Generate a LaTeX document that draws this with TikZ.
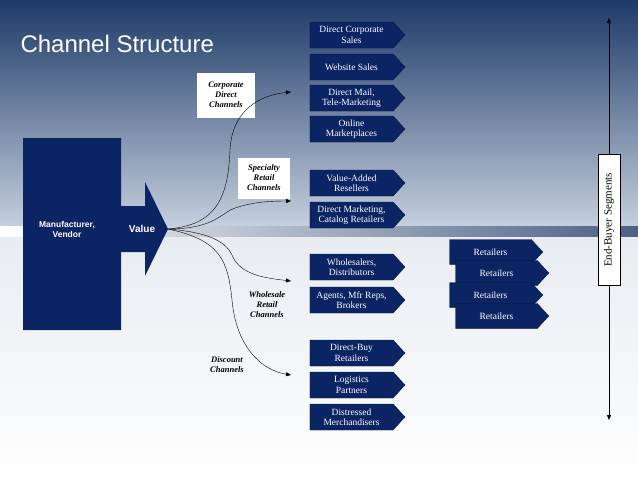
\documentclass[tikz,border=0pt]{standalone}
\usepackage{fontspec}
\setmainfont{Liberation Serif}
\newfontfamily\sansf{Liberation Sans}
\usetikzlibrary{arrows.meta,shapes.symbols}
\definecolor{navy}{HTML}{0B2463}
\definecolor{bgtop}{HTML}{1E3A68}
\definecolor{bgmid}{HTML}{C5CFDD}
\begin{document}
\begin{tikzpicture}[x=1pt,y=-1pt,
  tag/.style={signal,signal to=east,signal pointer angle=95,fill=navy,draw=navy!60!black,text=white,
    minimum width=95pt,minimum height=26pt,inner sep=0pt,align=center,font=\fontsize{9.5}{10.5}\selectfont},
  ret/.style={tag,minimum width=93pt,minimum height=25pt},
  lab/.style={align=center,font=\fontsize{8.5}{10}\selectfont\bfseries\itshape},
  con/.style={-{Triangle[length=5pt,width=4pt]},thin}]
\useasboundingbox (0,0) rectangle (638,479);
\shade[top color=bgtop,bottom color=bgmid] (0,0) rectangle (638,226);
\shade[left color=white,right color=bgtop!80] (0,226) rectangle (638,237);
\shade[top color=bgmid!40,bottom color=white] (0,237) rectangle (638,479);
\node[anchor=west,text=white,font=\sansf\fontsize{24}{26}\selectfont] (title) at (17,44) {Channel Structure};
\fill[navy] (23,138)--(121,138)--(121,206)--(145,206)--(145,182)--(168,229)--(145,276)--(145,252)--(121,252)--(121,330)--(23,330)--cycle;
\node[text=white,align=center,font=\sansf\bfseries\fontsize{8.5}{10}\selectfont] (mv) at (67,229) {Manufacturer,\\Vendor};
\node[text=white,font=\sansf\bfseries\fontsize{10}{11}\selectfont] (val) at (142,229) {Value};
\coordinate (src) at (168,229);
\foreach \n/\y/\t in {a/35/{Direct Corporate\\Sales},b/67/{Website Sales},c/98/{Direct Mail,\\Tele-Marketing},d/129/{Online\\Marketplaces},e/183/{Value-Added\\Resellers},f/215/{Direct Marketing,\\Catalog Retailers},g/267/{Wholesalers,\\Distributors},h/300/{Agents, Mfr Reps,\\Brokers},i/353/{Direct-Buy\\Retailers},j/385/{Logistics\\Partners},k/417/{Distressed\\Merchandisers}}
  \node[tag] (\n) at (351.5,\y) {\t};
\node[ret] (r1) at (490.5,252) {Retailers};
\node[ret] (r2) at (496.5,273) {Retailers};
\node[ret] (r3) at (490.5,295) {Retailers};
\node[ret] (r4) at (496.5,316) {Retailers};
\node[lab,fill=white,minimum width=58pt,minimum height=45pt] (l1) at (226,95) {Corporate\\Direct\\Channels};
\node[lab,fill=white,minimum width=52pt,minimum height=41pt] (l2) at (264,178) {Specialty\\Retail\\Channels};
\node[lab] (l3) at (267,305) {Wholesale\\Retail\\Channels};
\node[lab] (l4) at (227,365) {Discount\\Channels};
\coordinate (e1) at (291,92);
\coordinate (e2) at (291,201);
\coordinate (e3) at (291,281);
\coordinate (e4) at (291,375);
\draw[con] (src) .. controls (215,225) and (228,200) .. (230,150) .. controls (232,110) and (260,95) .. (e1);
\draw[con] (src) .. controls (215,229) and (222,212) .. (235,208) .. controls (250,203) and (265,201) .. (e2);
\draw[con] (src) .. controls (205,232) and (225,240) .. (232,255) .. controls (240,275) and (265,278) .. (e3);
\draw[con] (src) .. controls (220,240) and (228,260) .. (232,300) .. controls (236,345) and (260,370) .. (e4);
\node[draw,fill=white,rotate=90,minimum width=131pt,minimum height=22pt,inner sep=1pt,font=\fontsize{11}{12}\selectfont] (eb) at (609,220) {End-Buyer Segments};
\coordinate (top) at (609,18);
\coordinate (bot) at (609,420);
\draw[con] (eb.east) -- (top);
\draw[con] (eb.west) -- (bot);
\end{tikzpicture}
\end{document}
